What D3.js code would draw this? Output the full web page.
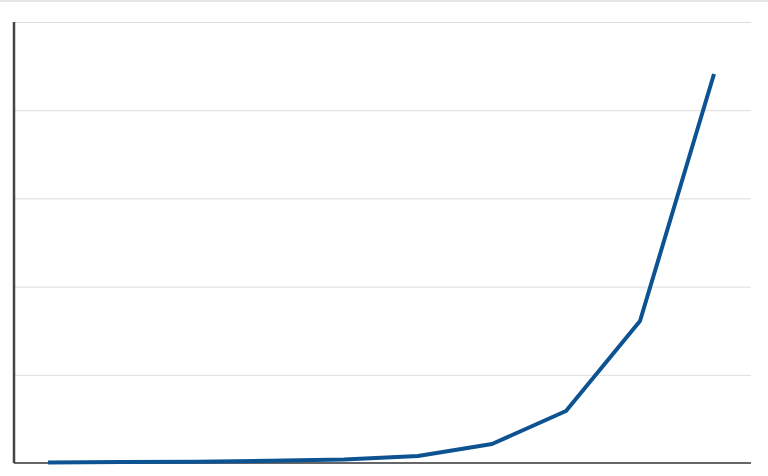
<!DOCTYPE html>
<html>
<head>
<meta charset="utf-8">
<script src="https://cdn.jsdelivr.net/npm/d3@7"></script>
<style>
  body { margin: 0; background: #fff; font-family: "Open Sans", sans-serif; }
  svg { display: block; }
</style>
</head>
<body>
<div id="chart"></div>
<script>
// values (no labels shown in the original)
var periods = [0, 1, 2, 3, 4, 5, 6, 7, 8, 9];
var values = [0.005, 0.01, 0.015, 0.025, 0.04, 0.08, 0.215, 0.59, 1.61, 4.41];
var yTicks = [0, 1, 2, 3, 4, 5];

var width = 768, height = 476;
var margin = {top: 22, right: 17, bottom: 13, left: 14};

var svg = d3.select("#chart")
    .append("svg")
    .attr("width", width)
    .attr("height", height);

// faint rule across the very top
svg.append("line")
    .attr("x1", 0).attr("x2", width)
    .attr("y1", 1).attr("y2", 1)
    .style("stroke", "#e6e6e6")
    .style("stroke-width", 2);

var x = d3.scaleLinear()
    .domain([0, 9])
    .range([48, 714]);

var y = d3.scaleLinear()
    .domain([0, 5])
    .range([height - margin.bottom, margin.top]);

// gridlines
svg.append("g")
    .attr("class", "grid")
    .attr("transform", "translate(" + margin.left + ",0)")
    .call(d3.axisLeft(y).tickValues(yTicks.slice(1)).tickSize(-(width - margin.right - margin.left)).tickFormat(""))
    .call(function(g){ g.select(".domain").remove(); })
    .selectAll("line")
    .style("stroke", "#dcdcdc")
    .style("stroke-width", 1);

// left axis
svg.append("line")
    .attr("x1", margin.left).attr("x2", margin.left)
    .attr("y1", y(5)).attr("y2", y(0))
    .style("stroke", "#444")
    .style("stroke-width", 2.5);

// bottom axis
svg.append("line")
    .attr("x1", margin.left).attr("x2", width - margin.right)
    .attr("y1", y(0)).attr("y2", y(0))
    .style("stroke", "#333")
    .style("stroke-width", 1.5);

var line = d3.line()
    .x(function(d, i){ return x(periods[i]); })
    .y(function(d){ return y(d); });

svg.append("path")
    .datum(values)
    .attr("d", line)
    .style("fill", "none")
    .style("stroke", "#0d5391")
    .style("stroke-width", 4)
    .style("stroke-linejoin", "round");
</script>
</body>
</html>
